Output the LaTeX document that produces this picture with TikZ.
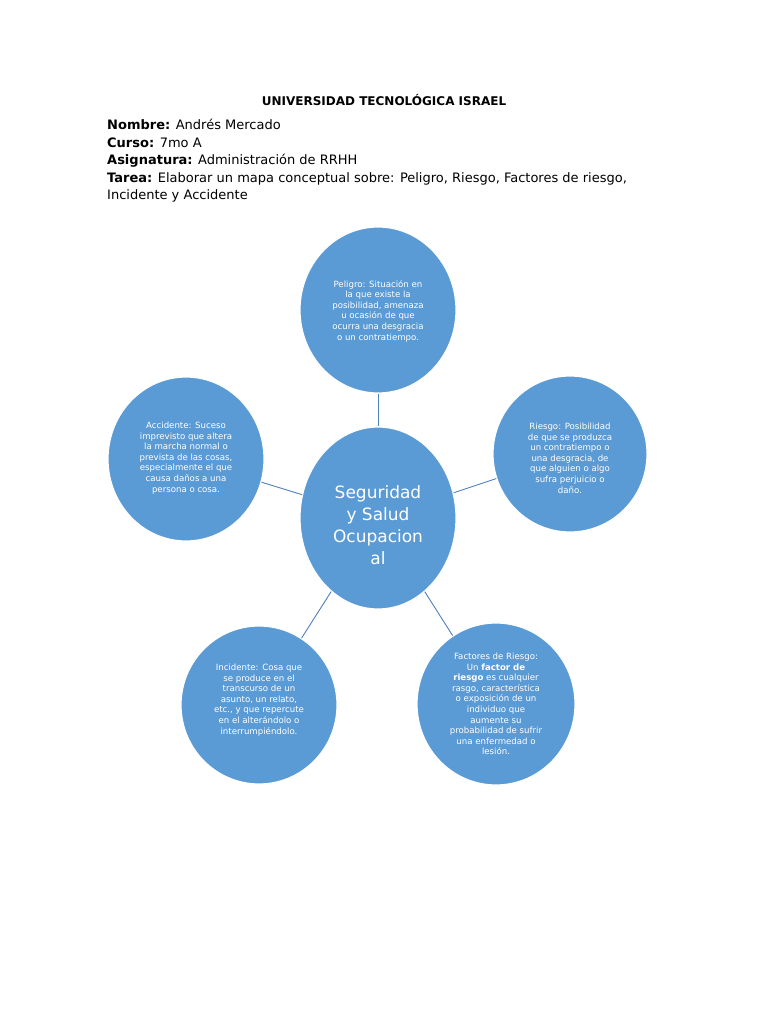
\documentclass[tikz,border=0pt]{standalone}
\usepackage{fontspec}
\setmainfont{DejaVu Sans}
\usetikzlibrary{shapes.geometric}
\definecolor{bub}{HTML}{5B9BD5}
\definecolor{lnk}{HTML}{4F81BD}
\tikzset{x=1pt,y=-1pt,
 bubble/.style={ellipse,fill=bub,draw=white,line width=1.2pt,inner sep=0pt},
 btext/.style={text=white,font=\fontsize{8.6}{10.6}\selectfont,align=center},
 link/.style={draw=lnk,line width=0.9pt}}
\begin{document}
\begin{tikzpicture}
\useasboundingbox[fill=white] (0,0) rectangle (768,1024);
\node[font=\fontsize{12}{14}\bfseries\selectfont] (title) at (384,100) {UNIVERSIDAD TECNOLÓGICA ISRAEL};
\node[anchor=north west,align=left,font=\fontsize{13}{17.5}\selectfont,inner sep=0pt] (hdr) at (107,119) {\textbf{Nombre:} Andrés Mercado\\\textbf{Curso:} 7mo A\\\textbf{Asignatura:} Administración de RRHH\\\textbf{Tarea:} Elaborar un mapa conceptual sobre: Peligro, Riesgo, Factores de riesgo,\\Incidente y Accidente};
\node[bubble,minimum width=156,minimum height=166] (pel) at (378,310) {};
\node[btext] at (378,311) {Peligro: Situación en\\la que existe la\\posibilidad, amenaza\\u ocasión de que\\ocurra una desgracia\\o un contratiempo.};
\node[bubble,minimum width=154,minimum height=156] (rie) at (570,454) {};
\node[btext] at (570,458) {Riesgo: Posibilidad\\de que se produzca\\un contratiempo o\\una desgracia, de\\que alguien o algo\\sufra perjuicio o\\daño.};
\node[bubble,minimum width=156,minimum height=164] (acc) at (186,459) {};
\node[btext] at (186,458) {Accidente: Suceso\\imprevisto que altera\\la marcha normal o\\prevista de las cosas,\\especialmente el que\\causa daños a una\\persona o cosa.};
\node[bubble,minimum width=156,minimum height=158] (inc) at (259,705) {};
\node[btext] at (259,700) {Incidente: Cosa que\\se produce en el\\transcurso de un\\asunto, un relato,\\etc., y que repercute\\en el alterándolo o\\interrumpiéndolo.};
\node[bubble,minimum width=158,minimum height=162] (fac) at (496,704) {};
\node[btext] at (496,704) {Factores de Riesgo:\\Un \textbf{factor de}\\\textbf{riesgo} es cualquier\\rasgo, característica\\o exposición de un\\individuo que\\aumente su\\probabilidad de sufrir\\una enfermedad o\\lesión.};
\node[bubble,minimum width=156,minimum height=182] (cen) at (378,518) {};
\node[text=white,font=\fontsize{17}{22}\selectfont,align=center] at (378,525) {Seguridad\\y Salud\\Ocupacion\\al};
\draw[link] (cen) -- (pel);
\draw[link] (cen) -- (rie);
\draw[link] (cen) -- (acc);
\draw[link] (cen) -- (inc);
\draw[link] (cen) -- (fac);
\end{tikzpicture}
\end{document}
